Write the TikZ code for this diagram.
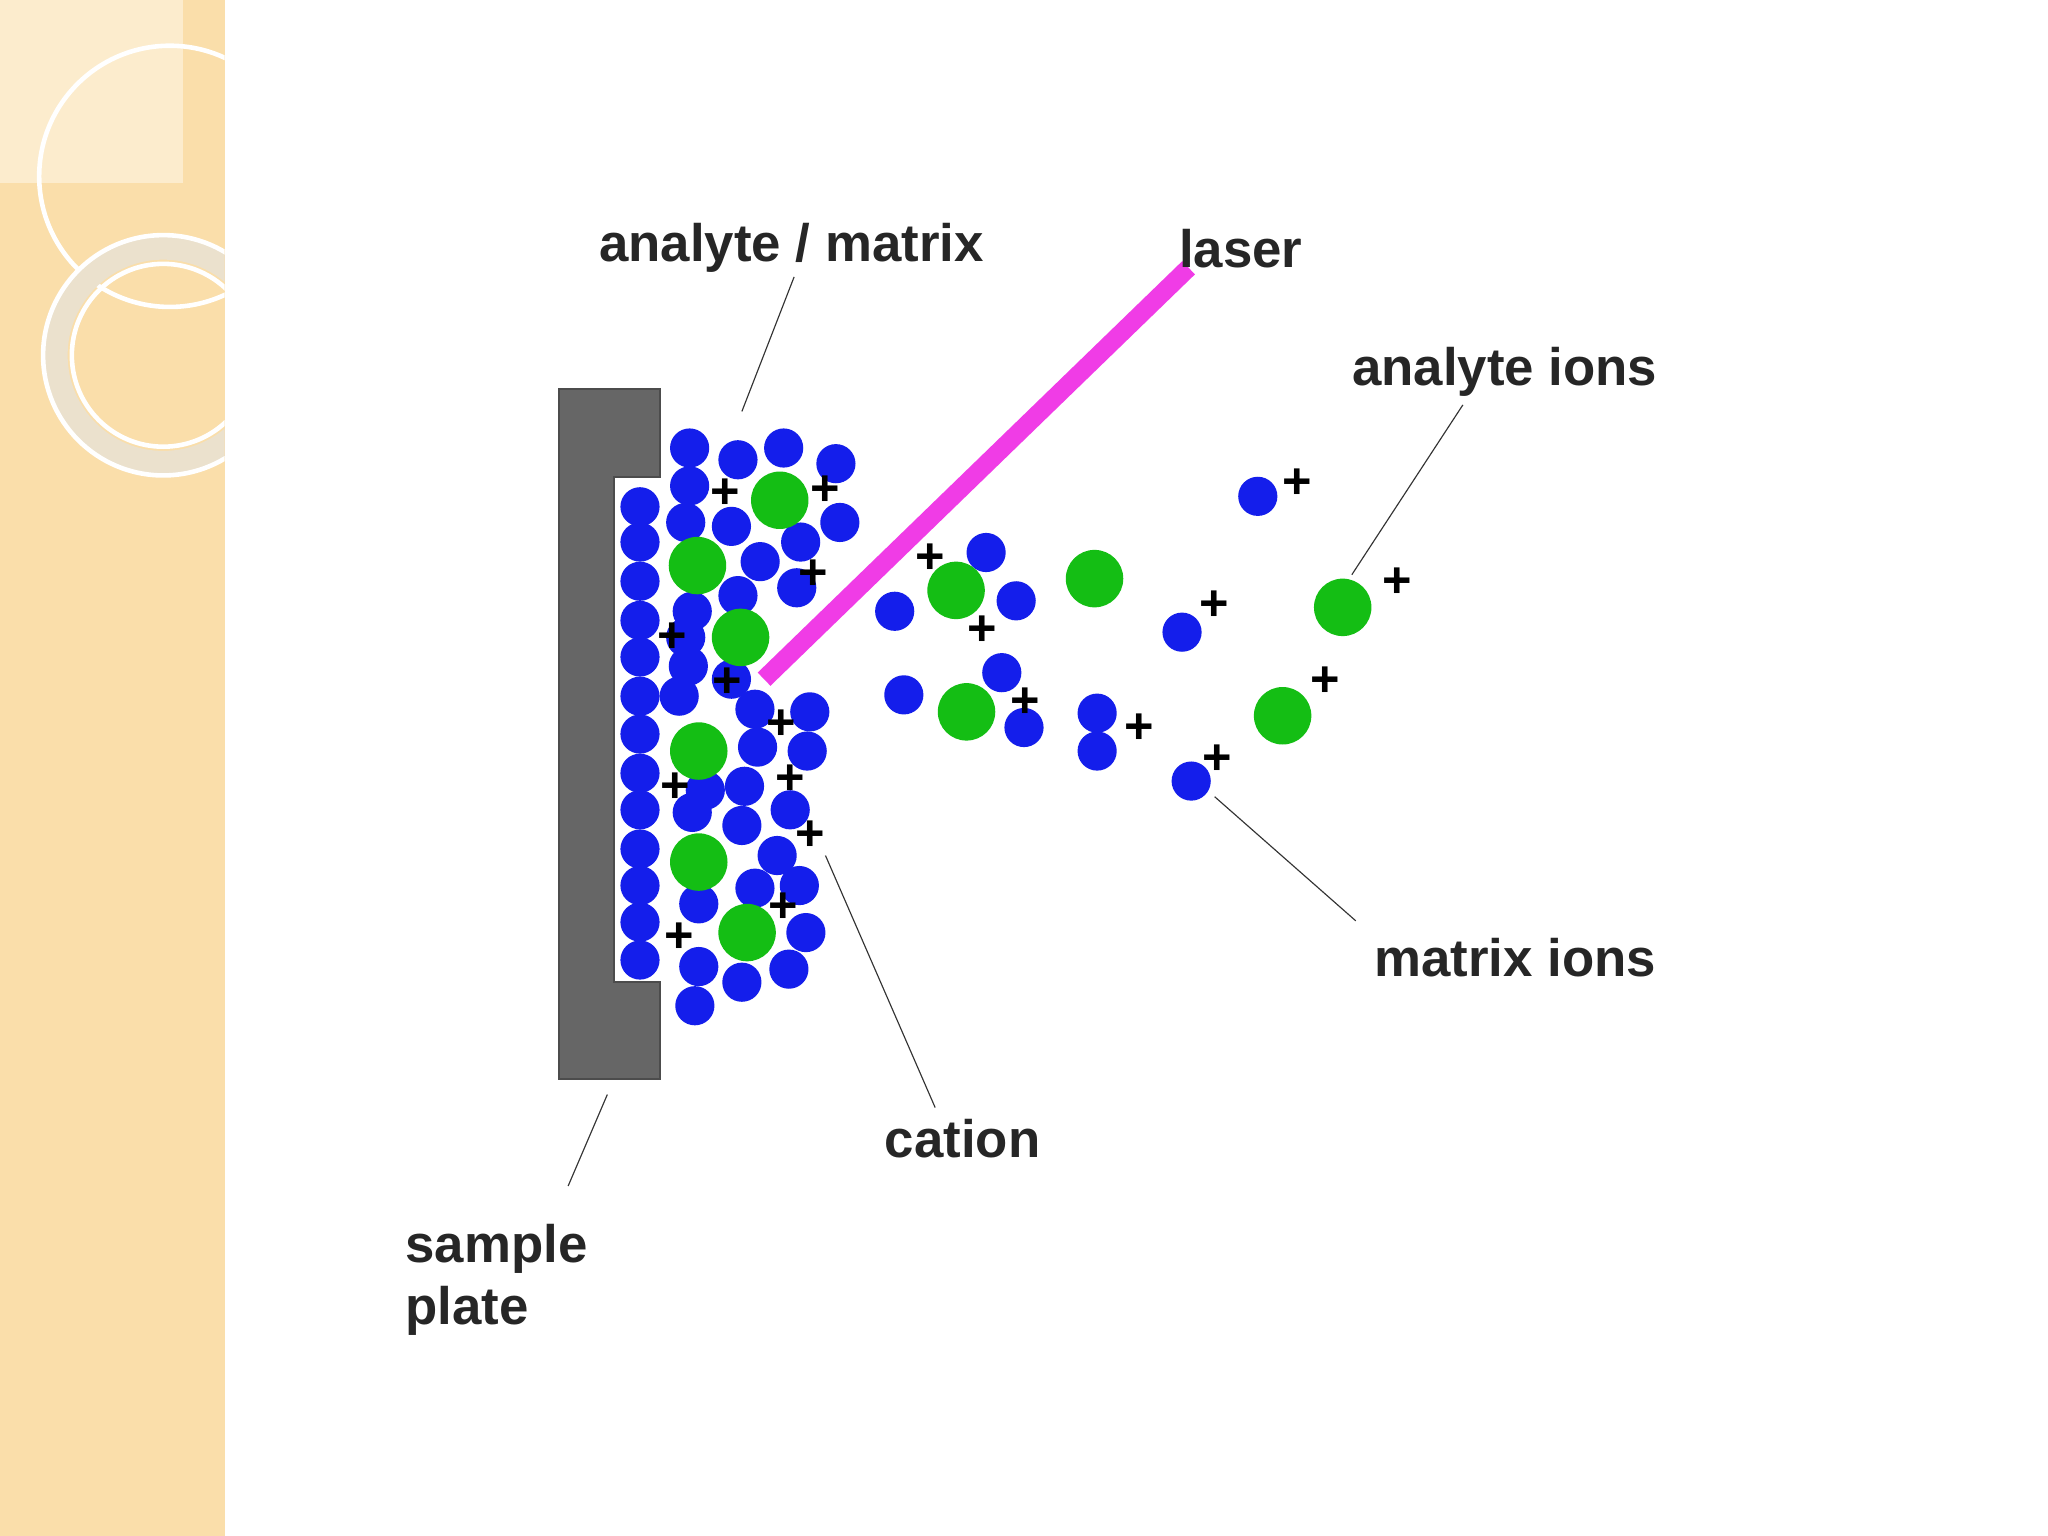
\documentclass[tikz,border=0pt]{standalone}
\usepackage{fontspec}
\setmainfont{Liberation Sans}
\definecolor{cblue}{RGB}{20,30,235}
\definecolor{cgreen}{RGB}{20,190,20}
\definecolor{strip}{RGB}{250,222,170}
\definecolor{stripl}{RGB}{252,236,205}
\definecolor{ring}{RGB}{235,225,205}
\definecolor{laser}{RGB}{240,60,230}
\begin{document}
\begin{tikzpicture}[x=0.1mm,y=-0.1mm,
 blue/.style={fill=cblue,draw=none},
 green/.style={fill=cgreen,draw=none},
 lbl/.style={font=\bfseries\fontsize{11.5}{13.5}\selectfont,text=black!85},
 lead/.style={draw=black!80,line width=0.25pt}]
\useasboundingbox (0,0) rectangle (1568,1176);
\fill[white] (0,0) rectangle (1568,1176);
% side strip
\fill[strip] (0,0) rectangle (172,1176);
\begin{scope}
\clip (0,0) rectangle (172,1176);
\fill[stripl] (0,0) rectangle (140,140);
\draw[white,line width=1pt] (130,135) circle (100);
\draw[ring,line width=5pt] (125,272) circle (82);
\draw[white,line width=1pt] (125,272) circle (92);
\draw[white,line width=1pt] (125,272) circle (70);
\end{scope}
% plate
\fill[gray!80!black,draw=black!70,line width=0.4pt] (428,298) -- (505,298) -- (505,365) -- (470,365) -- (470,752) -- (505,752) -- (505,826) -- (428,826) -- cycle;
% blue
\foreach \x/\y [count=\i] in {528/343,565/352,600/343,640/355,490/388,528/372,525/400,490/415,560/403,613/415,643/400,582/430,610/450,490/445,490/475,530/468,565/456,525/488,490/503,527/510,490/533,520/533,560/520,578/543,620/545,490/562,580/572,618/575,490/592,540/605,570/602,605/620,490/620,530/622,568/632,490/650,595/655,490/678,535/692,578/680,612/678,490/706,617/714,490/735,535/740,568/752,604/742,532/770,963/380,755/423,685/468,778/460,767/515,692/532,784/557,840/546,840/575,905/484,912/598}
 \fill[blue] (\x,\y) circle (15) coordinate (b\i);
% green
\foreach \x/\y [count=\i] in {597/383,534/433,567/488,535/575,535/660,572/714,732/452,838/443,1028/465,740/545,982/548}
 \fill[green] (\x,\y) circle (22) coordinate (g\i);
% plus
\foreach \x/\y [count=\i] in {555/378,632/376,623/440,712/428,515/488,752/483,557/523,598/555,517/603,605/597,620/640,600/695,520/718,785/538,872/558,930/464,993/370,1070/446,1015/522,932/582}
 \node[font=\bfseries\fontsize{11}{11}\selectfont,inner sep=0] (p\i) at (\x,\y) {+};
% laser
\coordinate (l1) at (910,205); \coordinate (l2) at (585,520);
\draw[laser,line width=4pt] (l1) -- (l2);
% labels
\node[lbl] (am) at (606,190) {analyte / matrix};
\node[lbl] (la) at (950,190) {laser};
\node[lbl] (ai) at (1152,285) {analyte ions};
\node[lbl] (mi) at (1160,733) {matrix ions};
\node[lbl] (ca) at (737,872) {cation};
\node[lbl,align=left,anchor=north west] (sp) at (298,925) {sample\\plate};
\coordinate (a1) at (608,212); \coordinate (a2) at (568,315);
\coordinate (s1) at (465,838); \coordinate (s2) at (435,908);
\coordinate (c1) at (632,655); \coordinate (c2) at (716,848);
\coordinate (i1) at (1120,310); \coordinate (i2) at (1035,440);
\coordinate (m1) at (930,610); \coordinate (m2) at (1038,705);
\draw[lead] (a1)--(a2); \draw[lead] (s1)--(s2); \draw[lead] (c1)--(c2);
\draw[lead] (i1)--(i2); \draw[lead] (m1)--(m2);
\end{tikzpicture}
\end{document}
